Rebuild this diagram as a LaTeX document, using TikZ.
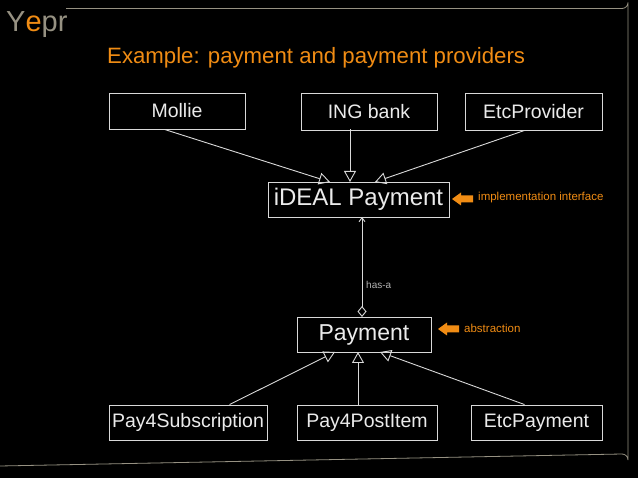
\documentclass[tikz,border=0pt]{standalone}
\usepackage{fontspec}
\setmainfont{Liberation Sans}
\usetikzlibrary{arrows.meta}
\definecolor{org}{RGB}{240,140,20}
\definecolor{fr}{RGB}{150,145,130}
\begin{document}
\begin{tikzpicture}[x=1pt,y=-1pt,
 box/.style={draw=white!85!black,line width=0.9pt,inner sep=0pt,text=white!92!black,font=\fontsize{19.5}{19.5}\selectfont},
 inh/.style={draw=white!85!black,line width=0.9pt,-{Triangle[open,length=11pt,width=12pt]}},
 lbl/.style={text=org,font=\fontsize{11.5}{11.5}\selectfont,anchor=west,inner sep=0pt}]
\fill[black] (0,0) rectangle (638,478);
\useasboundingbox (0,0) rectangle (638,478);
% frame and logo
\draw[fr,line width=0.8pt] (66,8.5) -- (622,8.5) arc[start angle=90,end angle=0,radius=6] -- (628,460) arc[start angle=0,end angle=-90,radius=6] -- (0,466);
\node[anchor=west,inner sep=0pt,font=\fontsize{29}{29}\selectfont] (logo) at (6,25) {\textcolor{fr}{Y}\textcolor{org}{e}\textcolor{fr}{pr}};
\node[anchor=west,inner sep=0pt,text=org,font=\fontsize{22.2}{22.2}\selectfont] (title) at (107,58) {Example: payment and payment providers};
% boxes
\node[box,minimum width=136pt,minimum height=36pt] (mollie) at (177,111) {Mollie};
\node[box,minimum width=136pt,minimum height=37pt] (ing) at (369,111.5) {ING bank};
\node[box,minimum width=137pt,minimum height=37pt] (etcp) at (533.5,111.5) {EtcProvider};
\node[box,minimum width=181pt,minimum height=35pt,font=\fontsize{24}{24}\selectfont] (ideal) at (358.5,199.5) {iDEAL Payment};
\node[box,minimum width=134pt,minimum height=35pt,font=\fontsize{23}{23}\selectfont] (pay) at (364,334.5) {Payment};
\node[box,minimum width=158pt,minimum height=35pt] (p4s) at (188,422.5) {Pay4Subscription};
\node[box,minimum width=140pt,minimum height=35pt] (p4p) at (367,422.5) {Pay4PostItem};
\node[box,minimum width=131pt,minimum height=35pt] (etcpay) at (536.5,422.5) {EtcPayment};
% connectors
\draw[inh] (mollie.south west) ++(56,0) coordinate (m1) -- (330,182);
\draw[inh] (350,129.5) -- (350,182);
\draw[inh] (etcp.south west) ++(60,0) -- (375,182);
\draw[inh] (p4s.north west) ++(121,0) -- (335,352);
\draw[inh] (358,405) -- (358,352);
\draw[inh] (etcpay.north west) ++(54,0) -- (380,352);
\draw[draw=white!85!black,line width=0.9pt,{Diamond[open,length=11pt,width=9pt]}-{Straight Barb[length=4pt,width=6pt]}] (362,317) -- (362,217);
\node[anchor=west,inner sep=0pt,text=white!70!black,font=\fontsize{10}{10}\selectfont] (hasa) at (366,285) {has-a};
% annotations
\fill[org] (452,199) -- (461,192.5) -- (461,195.5) -- (473,195.5) -- (473,202.5) -- (461,202.5) -- (461,205.5) -- cycle;
\node[lbl] (t1) at (478,198) {implementation interface};
\fill[org] (438,329) -- (447,322.5) -- (447,325.5) -- (459,325.5) -- (459,332.5) -- (447,332.5) -- (447,335.5) -- cycle;
\node[lbl] (t2) at (464,328) {abstraction};
\end{tikzpicture}
\end{document}
